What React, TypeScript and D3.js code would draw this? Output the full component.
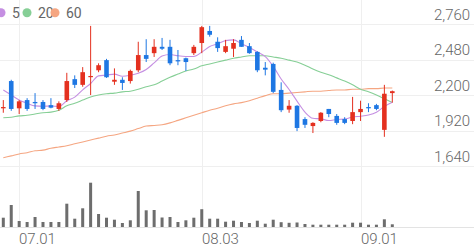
import React from "react";
import * as d3 from "d3";

// Trading days shown on the chart
const dates = [
  "06.29", "06.30", "07.01", "07.04", "07.05", "07.06", "07.07", "07.08", "07.11", "07.12",
  "07.13", "07.14", "07.15", "07.18", "07.19", "07.20", "07.21", "07.22", "07.25", "07.26",
  "07.27", "07.28", "07.29", "08.01", "08.02", "08.03", "08.04", "08.05", "08.08", "08.09",
  "08.10", "08.11", "08.12", "08.16", "08.17", "08.18", "08.19", "08.22", "08.23", "08.24",
  "08.25", "08.26", "08.29", "08.30", "08.31", "09.01", "09.02", "09.05", "09.06", "09.07",
];

const opens = [
  2095, 2310, 2095, 2160, 2145, 2145, 2120, 2090, 2160, 2325,
  2280, 2345, 2395, 2475, 2305, 2320, 2310, 2395, 2515, 2530,
  2580, 2580, 2475, 2490, 2530, 2610, 2705, 2620, 2540, 2565,
  2635, 2585, 2540, 2415, 2445, 2240, 2085, 2115, 2010, 1955,
  1995, 2090, 2035, 2010, 1995, 2065, 2105, 2120, 1925, 2215,
];
const highs = [
  2160, 2320, 2160, 2175, 2215, 2160, 2175, 2150, 2375, 2355,
  2420, 2745, 2450, 2485, 2410, 2340, 2400, 2620, 2640, 2640,
  2650, 2635, 2555, 2495, 2595, 2745, 2745, 2655, 2635, 2640,
  2665, 2610, 2545, 2460, 2455, 2300, 2160, 2120, 2025, 1985,
  2065, 2090, 2050, 2025, 2185, 2155, 2135, 2130, 2280, 2235,
];
const lows = [
  2060, 2075, 2050, 2075, 2090, 2080, 2095, 2075, 2145, 2255,
  2265, 2200, 2380, 2335, 2280, 2240, 2290, 2380, 2460, 2500,
  2555, 2435, 2435, 2390, 2515, 2530, 2660, 2540, 2530, 2500,
  2580, 2525, 2380, 2355, 2215, 2065, 2060, 1915, 1940, 1900,
  1985, 2025, 1965, 1970, 1970, 1995, 2065, 2080, 1870, 2140,
];
const closes = [
  2105, 2090, 2150, 2090, 2135, 2090, 2100, 2135, 2310, 2280,
  2380, 2350, 2435, 2340, 2320, 2295, 2390, 2515, 2485, 2580,
  2565, 2450, 2465, 2460, 2580, 2735, 2675, 2570, 2585, 2610,
  2580, 2530, 2395, 2400, 2225, 2080, 2115, 1940, 1965, 1980,
  2060, 2050, 1980, 1980, 2065, 2090, 2095, 2090, 2210, 2230,
];
// Volume, thousand shares
const volumes = [
  93, 220, 60, 50, 100, 50, 50, 50, 233, 83,
  187, 443, 130, 93, 73, 40, 67, 360, 167, 170,
  95, 100, 50, 67, 93, 178, 83, 83, 53, 63,
  50, 40, 63, 33, 73, 48, 42, 45, 30, 23,
  23, 23, 23, 23, 43, 43, 23, 23, 77, 27,
];

// Moving averages
const ma5 = [
  2240, 2200, 2160, 2135, 2114, 2111, 2113, 2110, 2154, 2183,
  2241, 2291, 2351, 2357, 2365, 2348, 2356, 2372, 2401, 2453,
  2507, 2519, 2509, 2504, 2504, 2538, 2583, 2604, 2629, 2635,
  2604, 2575, 2540, 2503, 2426, 2326, 2243, 2152, 2065, 2016,
  2012, 1999, 2007, 2010, 2027, 2033, 2042, 2064, 2110, 2143,
];
const ma20 = [
  2020, 2025, 2035, 2040, 2050, 2060, 2065, 2080, 2115, 2135,
  2160, 2185, 2200, 2210, 2215, 2225, 2230, 2245, 2265, 2280,
  2310, 2340, 2365, 2390, 2405, 2430, 2445, 2460, 2475, 2490,
  2500, 2510, 2510, 2510, 2500, 2490, 2475, 2460, 2435, 2405,
  2380, 2360, 2335, 2310, 2280, 2245, 2225, 2200, 2170, 2140,
];
const ma60 = [
  1705, 1720, 1735, 1745, 1760, 1765, 1780, 1790, 1800, 1815,
  1830, 1845, 1860, 1875, 1885, 1900, 1915, 1935, 1955, 1960,
  1965, 1980, 2000, 2020, 2040, 2060, 2080, 2095, 2115, 2130,
  2140, 2155, 2175, 2195, 2210, 2210, 2215, 2220, 2225, 2230,
  2230, 2235, 2240, 2240, 2245, 2245, 2250, 2250, 2255, 2255,
];

const priceTicks = [2760, 2480, 2200, 1920, 1640];
const dateTicks = ["07.01", "08.03", "09.01"];

const legend = [
  { label: "5", color: "#c58fe2", values: ma5 },
  { label: "20", color: "#86cf96", values: ma20 },
  { label: "60", color: "#f5a682", values: ma60 },
];

const W = 474;
const H = 248;
const UP = "#e4301f";
const DOWN = "#1e77e3";
const FONT = "Roboto, 'Noto Sans', sans-serif";

export default function App() {
  const idx = d3.range(dates.length);
  const x = d3.scalePoint<number>().domain(idx).range([3.3, 392.3]);
  const y = d3.scaleLinear().domain([1640, 2760]).range([166, 24]);
  const yVol = d3.scaleLinear().domain([0, 500]).range([227, 177]);

  const bodyW = 4.6;
  const volW = 3;

  const line = (vals: number[]) =>
    d3
      .line<number>()
      .x((_, i) => x(i) as number)
      .y((v) => y(v))
      .curve(d3.curveMonotoneX)(vals) as string;

  return (
    <svg
      width={W}
      height={H}
      style={{ position: "absolute", left: 0, top: 0, background: "#fff" }}
      fontFamily={FONT}
    >
      {/* horizontal grid */}
      {priceTicks.map((t) => (
        <line
          key={"g" + t}
          x1={0}
          x2={W}
          y1={Math.round(y(t)) + 0.5}
          y2={Math.round(y(t)) + 0.5}
          stroke="#efefef"
        />
      ))}
      {/* vertical grid at date ticks */}
      {dateTicks.map((d) => {
        const xx = Math.round(x(dates.indexOf(d)) as number) + 0.5;
        return <line key={"v" + d} x1={xx} x2={xx} y1={0} y2={227} stroke="#efefef" />;
      })}
      {/* volume baseline */}
      <line x1={0} x2={W} y1={227.5} y2={227.5} stroke="#e3e3e3" />

      {/* volume bars */}
      {volumes.map((v, i) => (
        <rect
          key={"vol" + i}
          x={(x(i) as number) - volW / 2}
          y={yVol(v)}
          width={volW}
          height={yVol(0) - yVol(v)}
          fill="#6d6d6d"
        />
      ))}

      {/* moving averages */}
      {legend
        .slice()
        .reverse()
        .map((m) => (
          <path key={"ma" + m.label} d={line(m.values)} fill="none" stroke={m.color} strokeWidth={1.1} />
        ))}

      {/* candles */}
      {idx.map((i) => {
        const o = opens[i];
        const c = closes[i];
        const col = c >= o ? UP : DOWN;
        const cx = x(i) as number;
        const top = y(Math.max(o, c));
        const h = Math.max(1.2, Math.abs(y(o) - y(c)));
        return (
          <g key={"c" + i}>
            <line x1={cx} x2={cx} y1={y(highs[i])} y2={y(lows[i])} stroke={col} strokeWidth={1} />
            <rect x={cx - bodyW / 2} y={top} width={bodyW} height={h} fill={col} />
          </g>
        );
      })}

      {/* price labels */}
      {priceTicks.map((t) => (
        <text
          key={"t" + t}
          x={434}
          y={y(t) - 4.5}
          fontSize={15}
          fontWeight={300}
          fill="#666"
        >
          {d3.format(",")(t)}
        </text>
      ))}

      {/* date labels */}
      {dateTicks.map((d) => (
        <text
          key={"d" + d}
          x={Math.round(x(dates.indexOf(d)) as number)}
          y={244}
          fontSize={15}
          fontWeight={300}
          fill="#666"
        >
          {d}
        </text>
      ))}

      {/* legend */}
      {legend.map((m, k) => {
        const lx = [1, 27, 55][k];
        return (
          <g key={"lg" + m.label}>
            <circle cx={lx} cy={12.7} r={4.5} fill={m.color} />
            <text x={lx + 11} y={18} fontSize={14} fill="#666">
              {m.label}
            </text>
          </g>
        );
      })}
    </svg>
  );
}
